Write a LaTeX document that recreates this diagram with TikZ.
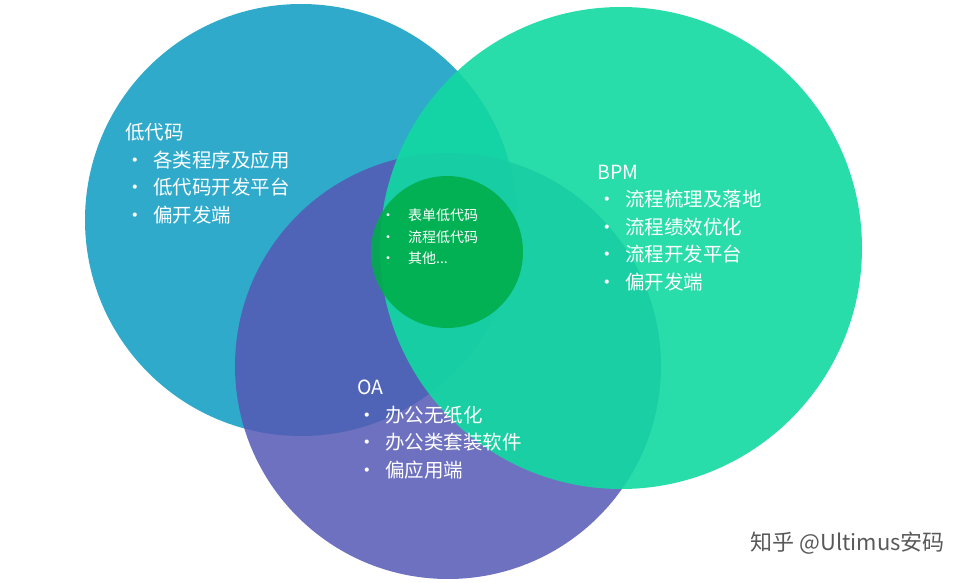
\documentclass[tikz,border=0pt]{standalone}
\usepackage{fontspec}
\setmainfont{Noto Sans CJK SC}
\definecolor{lowcode}{HTML}{2FAACB}
\definecolor{bpm}{HTML}{12D9A2}
\definecolor{oa}{HTML}{5558B4}
\definecolor{core}{HTML}{00AE4C}
\tikzset{
    circ/.style={circle, inner sep=0pt, minimum size=#1},
    listtext/.style={anchor=north west, align=left, text=white, font=\fontsize{19.5}{27.5}\selectfont, inner sep=0pt},
    smalltext/.style={anchor=north west, align=left, text=white, font=\fontsize{14}{21.5}\selectfont, inner sep=0pt},
}
\newcommand{\bul}{\makebox[28pt][l]{•}}
\begin{document}
\begin{tikzpicture}[x=1pt,y=-1pt]
    \useasboundingbox (0,0) rectangle (970,583);
    % circles
    \node[circ=432pt, fill=lowcode] (low) at (301,220) {};
    \node[circ=426pt, fill=oa, fill opacity=0.85] (oa) at (448,366) {};
    \node[circ=482pt, fill=bpm, fill opacity=0.9] (bpm) at (621,248) {};
    \node[circ=152pt, fill=core, fill opacity=0.9] (core) at (447,252) {};
    % texts
    \node[listtext] (lowlist) at (125,123) {低代码\\\bul 各类程序及应用\\\bul 低代码开发平台\\\bul 偏开发端};
    \node[listtext] (bpmlist) at (597,165) {BPM\\\bul 流程梳理及落地\\\bul 流程绩效优化\\\bul 流程开发平台\\\bul 偏开发端};
    \node[listtext] (oalist) at (357,380) {OA\\\bul 办公无纸化\\\bul 办公类套装软件\\\bul 偏应用端};
    \node[smalltext] (corelist) at (381,209) {\makebox[27pt][l]{•}表单低代码\\\makebox[27pt][l]{•}流程低代码\\\makebox[27pt][l]{•}其他...};
    \node[anchor=east, text=black!65, font=\fontsize{22}{26}\selectfont, inner sep=0pt] (mark) at (945,543) {知乎 @Ultimus安码};
\end{tikzpicture}
\end{document}
